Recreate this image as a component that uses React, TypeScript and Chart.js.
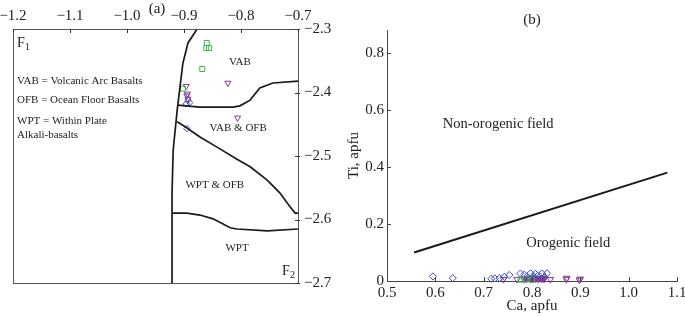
import React, { useEffect, useRef } from "react";
import { Chart, registerables } from "chart.js";
Chart.register(...registerables);

const FONT = "'Liberation Serif', 'Times New Roman', serif";
const GREEN = "#3db84a";
const PURPLE = "#8a3596";
const BLUE = "#3a4dc4";

// ---------- Panel (a) data ----------
const aXTicks = [-1.2, -1.1, -1.0, -0.9, -0.8, -0.7];
const aYTicks = [-2.7, -2.6, -2.5, -2.4, -2.3];

const bMainX = [-0.877, -0.893, -0.902, -0.912, -0.919, -0.921, -0.921];
const bMainY = [-2.3, -2.322, -2.354, -2.428, -2.491, -2.558, -2.7];

const bVabX = [-0.911, -0.872, -0.814, -0.802, -0.784, -0.767, -0.744, -0.7];
const bVabY = [-2.42, -2.423, -2.423, -2.421, -2.412, -2.393, -2.385, -2.382];

const bOfbX = [-0.912, -0.898, -0.872, -0.842, -0.807, -0.784, -0.754, -0.732, -0.714, -0.705, -0.7];
const bOfbY = [-2.446, -2.454, -2.47, -2.486, -2.505, -2.517, -2.538, -2.558, -2.58, -2.59, -2.59];

const bWptX = [-0.921, -0.895, -0.872, -0.849, -0.819, -0.807, -0.754, -0.7];
const bWptY = [-2.59, -2.59, -2.593, -2.599, -2.613, -2.615, -2.618, -2.615];

const aGreenX = [-0.86, -0.861, -0.856, -0.868, -0.902];
const aGreenY = [-2.322, -2.33, -2.33, -2.363, -2.394];
const aPurpleX = [-0.896, -0.823, -0.806, -0.895, -0.893, -0.894];
const aPurpleY = [-2.39, -2.385, -2.44, -2.405, -2.41, -2.402];
const aBlueX = [-0.893, -0.896, -0.89, -0.895];
const aBlueY = [-2.412, -2.418, -2.416, -2.457];

// ---------- Panel (b) data ----------
const bXTicks = [0.5, 0.6, 0.7, 0.8, 0.9, 1.0, 1.1];
const bYTicks = [0, 0.2, 0.4, 0.6, 0.8];

const lineCa = [0.556, 1.08];
const lineTi = [0.1, 0.38];

const blueCa = [0.595, 0.636, 0.716, 0.723, 0.733, 0.743, 0.753, 0.776, 0.784, 0.797, 0.807, 0.813, 0.821, 0.831, 0.79, 0.802, 0.826];
const blueTi = [0.016, 0.01, 0.008, 0.009, 0.01, 0.015, 0.021, 0.026, 0.022, 0.027, 0.025, 0.02, 0.026, 0.027, 0.015, 0.016, 0.014];

const purpleCa = [0.741, 0.769, 0.783, 0.838, 0.871, 0.872, 0.898, 0.9];
const purpleTi = [0.006, 0.006, 0.006, 0.006, 0.006, 0.01, 0.004, 0.007];

const purpleDenseCa = [0.786, 0.789, 0.792, 0.795, 0.798, 0.801, 0.804, 0.807, 0.81, 0.813, 0.816, 0.819, 0.822, 0.825];
const purpleDenseTi = [0.009, 0.007, 0.01, 0.008, 0.009, 0.007, 0.01, 0.008, 0.009, 0.007, 0.01, 0.008, 0.009, 0.007];

const greenCa = [0.776, 0.787, 0.8];
const greenTi = [0.005, 0.006, 0.004];

const zip = (xs: number[], ys: number[]) => xs.map((x, i) => ({ x, y: ys[i] }));
const fmt = (v: number) => (v < 0 ? "\u2212" + Math.abs(v).toFixed(1) : v === 0 ? "0" : v.toFixed(1));

function boundary(xs: number[], ys: number[]) {
  return {
    data: zip(xs, ys),
    showLine: true,
    borderColor: "#1a1a1a",
    borderWidth: 1.7,
    pointRadius: 0,
    tension: 0,
    clip: false as any,
  };
}

function pts(xs: number[], ys: number[], color: string, style: any, radius: number, rot = 0, fill = "rgba(0,0,0,0)") {
  return {
    data: zip(xs, ys),
    showLine: false,
    pointStyle: style,
    pointRadius: radius,
    pointRotation: rot,
    pointBorderColor: color,
    pointBackgroundColor: fill,
    pointBorderWidth: 1,
    clip: false as any,
  };
}

function PanelA() {
  const ref = useRef<HTMLCanvasElement>(null);
  useEffect(() => {
    const textPlugin = {
      id: "panelAText",
      afterDraw(chart: any) {
        const { ctx, chartArea, scales } = chart;
        const { left, right, top, bottom } = chartArea;
        const sx = scales.x, sy = scales.y;
        ctx.save();
        ctx.strokeStyle = "#555";
        ctx.lineWidth = 1;
        ctx.strokeRect(left + 0.5, top + 0.5, right - left, bottom - top);
        ctx.strokeStyle = "#333";
        ctx.beginPath();
        aXTicks.forEach((v) => {
          const px = Math.round(sx.getPixelForValue(v)) + 0.5;
          ctx.moveTo(px, top);
          ctx.lineTo(px, top + 4);
        });
        aYTicks.forEach((v) => {
          const py = Math.round(sy.getPixelForValue(v)) + 0.5;
          ctx.moveTo(right - 3, py);
          ctx.lineTo(right + 2, py);
        });
        ctx.stroke();
        ctx.fillStyle = "#222";
        ctx.textBaseline = "middle";
        ctx.font = `11px ${FONT}`;
        ctx.textAlign = "left";
        ctx.fillText("VAB = Volcanic Arc Basalts", 17, 81);
        ctx.fillText("OFB = Ocean Floor Basalts", 17, 100);
        ctx.fillText("WPT = Within Plate", 17, 121);
        ctx.fillText("Alkali-basalts", 17, 135);
        ctx.textAlign = "center";
        const lab = (t: string, x: number, y: number) =>
          ctx.fillText(t, sx.getPixelForValue(x), sy.getPixelForValue(y));
        lab("VAB", -0.802, -2.352);
        lab("VAB & OFB", -0.805, -2.456);
        lab("WPT & OFB", -0.846, -2.546);
        lab("WPT", -0.807, -2.645);
        ctx.font = `15px ${FONT}`;
        ctx.fillText("(a)", 157, 9);
        // F1, F2
        ctx.textAlign = "left";
        ctx.font = `14px ${FONT}`;
        ctx.fillText("F", 17, 43);
        ctx.font = `10px ${FONT}`;
        ctx.fillText("1", 25, 47);
        ctx.font = `14px ${FONT}`;
        ctx.fillText("F", 282, 271);
        ctx.font = `10px ${FONT}`;
        ctx.fillText("2", 290, 275);
        ctx.restore();
      },
    };
    const tickFont = { family: FONT, size: 15 };
    const chart = new Chart(ref.current!, {
      type: "scatter",
      data: {
        datasets: [
          boundary(bMainX, bMainY),
          boundary(bVabX, bVabY),
          boundary(bOfbX, bOfbY),
          boundary(bWptX, bWptY),
          pts(aGreenX, aGreenY, GREEN, "rect", 3.5),
          pts(aPurpleX, aPurpleY, PURPLE, "triangle", 3.5, 180),
          pts(aBlueX, aBlueY, BLUE, "rectRot", 3.2),
        ] as any,
      },
      options: {
        responsive: false,
        animation: false,
        events: [],
        layout: { padding: { left: 13, bottom: 33, top: 0, right: 0 } },
        plugins: { legend: { display: false }, tooltip: { enabled: false } },
        scales: {
          x: {
            type: "linear",
            position: "top",
            min: -1.2,
            max: -0.7,
            grid: { display: false, drawTicks: false },
            border: { display: false },
            afterBuildTicks: (s: any) => {
              s.ticks = aXTicks.map((v) => ({ value: v }));
            },
            afterFit: (s: any) => {
              s.height = 29;
              s.paddingLeft = 0;
              s.paddingRight = 0;
            },
            ticks: {
              callback: (v: any) => fmt(Number(v)),
              font: tickFont,
              color: "#222",
              padding: 4,
              maxRotation: 0,
              autoSkip: false,
            },
          },
          y: {
            type: "linear",
            position: "right",
            min: -2.7,
            max: -2.3,
            grid: { display: false, drawTicks: false },
            border: { display: false },
            afterBuildTicks: (s: any) => {
              s.ticks = aYTicks.map((v) => ({ value: v }));
            },
            afterFit: (s: any) => {
              s.width = 42;
              s.paddingTop = 0;
              s.paddingBottom = 0;
            },
            ticks: {
              callback: (v: any) => fmt(Number(v)),
              font: tickFont,
              color: "#222",
              padding: 6,
              autoSkip: false,
            },
          },
        },
      } as any,
      plugins: [textPlugin],
    });
    return () => chart.destroy();
  }, []);
  return (
    <canvas
      ref={ref}
      width={340}
      height={316}
      style={{ position: "absolute", left: 0, top: 0, width: 340, height: 316 }}
    />
  );
}

function PanelB() {
  const ref = useRef<HTMLCanvasElement>(null);
  useEffect(() => {
    const textPlugin = {
      id: "panelBText",
      afterDraw(chart: any) {
        const { ctx, chartArea, scales } = chart;
        const { left, bottom } = chartArea;
        const sx = scales.x, sy = scales.y;
        ctx.save();
        ctx.strokeStyle = "#444";
        ctx.lineWidth = 1;
        ctx.beginPath();
        bXTicks.slice(1).forEach((v) => {
          const px = Math.round(sx.getPixelForValue(v)) + 0.5;
          ctx.moveTo(px, bottom);
          ctx.lineTo(px, bottom - 4);
        });
        bYTicks.slice(1).forEach((v) => {
          const py = Math.round(sy.getPixelForValue(v)) + 0.5;
          ctx.moveTo(left, py);
          ctx.lineTo(left + 4, py);
        });
        ctx.stroke();
        ctx.fillStyle = "#222";
        ctx.textBaseline = "middle";
        ctx.textAlign = "center";
        ctx.font = `14.5px ${FONT}`;
        ctx.fillText("Non-orogenic field", sx.getPixelForValue(0.73), sy.getPixelForValue(0.55));
        ctx.fillText("Orogenic field", sx.getPixelForValue(0.875), sy.getPixelForValue(0.133));
        ctx.font = `15px ${FONT}`;
        ctx.fillText("(b)", 192, 20);
        ctx.restore();
      },
    };
    const tickFont = { family: FONT, size: 15 };
    const titleFont = { family: FONT, size: 15 };
    const chart = new Chart(ref.current!, {
      type: "scatter",
      data: {
        datasets: [
          {
            data: zip(lineCa, lineTi),
            showLine: true,
            borderColor: "#1a1a1a",
            borderWidth: 2,
            pointRadius: 0,
          },
          pts(greenCa, greenTi, GREEN, "rect", 3.5),
          pts(blueCa, blueTi, BLUE, "rectRot", 3.6),
          pts(purpleCa, purpleTi, PURPLE, "triangle", 3.8, 180),
          pts(purpleDenseCa, purpleDenseTi, PURPLE, "triangle", 3.8, 180, "rgba(138,53,150,0.75)"),
        ] as any,
      },
      options: {
        responsive: false,
        animation: false,
        events: [],
        layout: { padding: { left: 0, bottom: 0, top: 30, right: 8 } },
        plugins: { legend: { display: false }, tooltip: { enabled: false } },
        scales: {
          x: {
            type: "linear",
            position: "bottom",
            min: 0.5,
            max: 1.1,
            grid: { display: false, drawTicks: false },
            border: { display: true, color: "#444", width: 1 },
            afterBuildTicks: (s: any) => {
              s.ticks = bXTicks.map((v) => ({ value: v }));
            },
            afterFit: (s: any) => {
              s.height = 35;
              s.paddingLeft = 0;
              s.paddingRight = 0;
            },
            ticks: {
              callback: (v: any) => fmt(Number(v)),
              font: tickFont,
              color: "#222",
              padding: 3,
              maxRotation: 0,
              autoSkip: false,
            },
            title: {
              display: true,
              text: "Ca, apfu",
              font: titleFont,
              color: "#222",
              padding: { top: 0, bottom: 1 },
            },
          },
          y: {
            type: "linear",
            position: "left",
            min: 0,
            max: 0.88,
            grid: { display: false, drawTicks: false },
            border: { display: true, color: "#444", width: 1 },
            afterBuildTicks: (s: any) => {
              s.ticks = bYTicks.map((v) => ({ value: v }));
            },
            afterFit: (s: any) => {
              s.width = 47;
              s.paddingTop = 0;
              s.paddingBottom = 0;
            },
            ticks: {
              callback: (v: any) => fmt(Number(v)),
              font: tickFont,
              color: "#222",
              padding: 3,
              autoSkip: false,
            },
            title: {
              display: true,
              text: "Ti, apfu",
              font: titleFont,
              color: "#222",
              padding: { top: 5, bottom: 0 },
            },
          },
        },
      } as any,
      plugins: [textPlugin],
    });
    return () => chart.destroy();
  }, []);
  return (
    <canvas
      ref={ref}
      width={345}
      height={316}
      style={{ position: "absolute", left: 340, top: 0, width: 345, height: 316 }}
    />
  );
}

export default function App() {
  return (
    <div
      style={{
        position: "fixed",
        left: 0,
        top: 0,
        width: 685,
        height: 316,
        background: "#fff",
        overflow: "hidden",
      }}
    >
      <PanelA />
      <PanelB />
    </div>
  );
}
